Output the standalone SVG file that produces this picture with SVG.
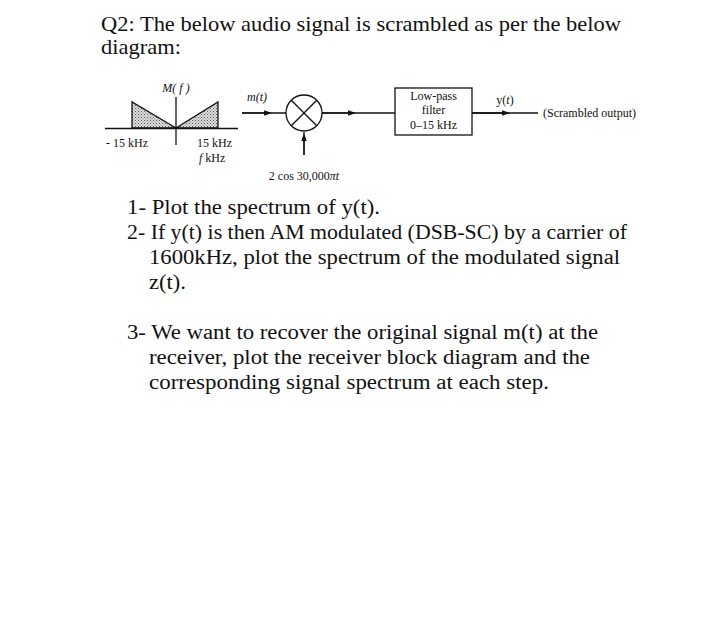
<svg xmlns="http://www.w3.org/2000/svg" width="709" height="625" viewBox="0 0 709 625">
<style>
.q{font-family:"Liberation Serif",serif;font-size:21px;fill:#111}
.s{font-family:"Liberation Serif",serif;font-size:12px;fill:#111}
.i{font-style:italic}
.ln{stroke:#111;stroke-width:1.3;fill:none}
</style>
<defs>
<pattern id="dots" width="3" height="3" patternUnits="userSpaceOnUse"><rect width="3" height="3" fill="#ddd"/><rect width="1" height="1" fill="#555"/><rect x="1.5" y="1.5" width="1" height="1" fill="#777"/></pattern>
<marker id="ah" viewBox="0 0 10 10" refX="5" refY="5" markerWidth="6" markerHeight="6" orient="auto"><path d="M0,1.5 L10,5 L0,8.5 z" fill="#111"/></marker>
</defs>
<rect width="709" height="625" fill="#fff"/>
<text class="q" x="101" y="31" textLength="520" lengthAdjust="spacingAndGlyphs">Q2: The below audio signal is scrambled as per the below</text>
<text class="q" x="101" y="54" textLength="80" lengthAdjust="spacingAndGlyphs">diagram:</text>
<g id="spectrum">
<polygon points="132,128 132,102 176,128" fill="url(#dots)" stroke="#111" stroke-width="1.3"/>
<polygon points="176,128 218,102 218,128" fill="url(#dots)" stroke="#111" stroke-width="1.3"/>
<line class="ln" x1="105" y1="128.5" x2="238" y2="128.5"/>
<line class="ln" x1="176" y1="97" x2="176" y2="145"/>
<text class="s i" x="176" y="92" text-anchor="middle">M( f )</text>
<text class="s" x="106" y="147">- 15 kHz</text>
<text class="s" x="197" y="147">15 kHz</text>
<text class="s" x="199" y="162"><tspan class="i">f</tspan> kHz</text>
</g>
<g id="mixer">
<circle cx="304" cy="113" r="18" class="ln" stroke-width="1.6"/>
<line class="ln" x1="291.3" y1="100.3" x2="316.7" y2="125.7" stroke-width="1.6"/>
<line class="ln" x1="316.7" y1="100.3" x2="291.3" y2="125.7" stroke-width="1.6"/>
<text class="s" x="304" y="180" text-anchor="middle">2 cos 30,000<tspan class="i">πt</tspan></text>
</g>
<g id="lpf">
<rect x="395" y="88" width="77" height="47" class="ln" stroke-width="1.6"/>
<text class="s" x="433.5" y="100" text-anchor="middle">Low-pass</text>
<text class="s" x="433.5" y="114" text-anchor="middle">filter</text>
<text class="s" x="433.5" y="129" text-anchor="middle">0–15 kHz</text>
</g>
<g id="output">
<text class="s" x="543" y="117">(Scrambled output)</text>
</g>
<g id="connectors">
<line class="ln" x1="242" y1="113" x2="286" y2="113"/>
<path d="M242,113 L268,113" class="ln" marker-end="url(#ah)"/>
<text class="s i" x="257" y="101" text-anchor="middle">m(t)</text>
<line class="ln" x1="322" y1="113" x2="395" y2="113"/>
<path d="M322,113 L352,113" class="ln" marker-end="url(#ah)"/>
<line class="ln" x1="304" y1="155" x2="304" y2="132"/>
<path d="M304,155 L304,137" class="ln" marker-end="url(#ah)"/>
<line class="ln" x1="472" y1="113" x2="538" y2="113"/>
<path d="M472,113 L506,113" class="ln" marker-end="url(#ah)"/>
<text class="s" x="505" y="104" text-anchor="middle">y(<tspan class="i">t</tspan>)</text>
</g>
<g class="q" style="font-size:20px">
<text x="127" y="214" textLength="253" lengthAdjust="spacingAndGlyphs">1- Plot the spectrum of y(t).</text>
<text x="127" y="239" textLength="500" lengthAdjust="spacingAndGlyphs">2- If y(t) is then AM modulated (DSB-SC) by a carrier of</text>
<text x="149" y="264" textLength="471" lengthAdjust="spacingAndGlyphs">1600kHz, plot the spectrum of the modulated signal</text>
<text x="149" y="289" textLength="37" lengthAdjust="spacingAndGlyphs">z(t).</text>
<text x="127" y="339" textLength="471" lengthAdjust="spacingAndGlyphs">3- We want to recover the original signal m(t) at the</text>
<text x="149" y="364" textLength="441" lengthAdjust="spacingAndGlyphs">receiver, plot the receiver block diagram and the</text>
<text x="149" y="389" textLength="400" lengthAdjust="spacingAndGlyphs">corresponding signal spectrum at each step.</text>
</g>
</svg>
